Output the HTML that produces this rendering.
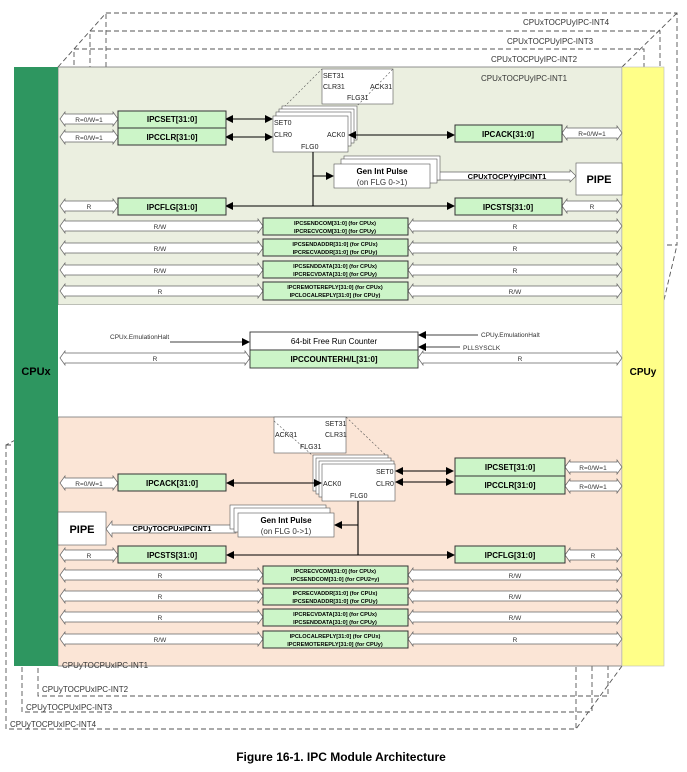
<!DOCTYPE html>
<html><head><meta charset="utf-8"><style>
html,body{margin:0;padding:0;background:#fff;}
svg{display:block;font-family:"Liberation Sans",sans-serif;}
.b{font-weight:bold;}
</style></head><body>
<svg width="687" height="772" viewBox="0 0 687 772" xmlns="http://www.w3.org/2000/svg">
<defs>
<marker id="ah" markerWidth="8" markerHeight="8" refX="7" refY="4" orient="auto-start-reverse" markerUnits="userSpaceOnUse"><path d="M0,0 L8,4 L0,8 z" fill="#000"/></marker>
</defs>
<!-- top dashed layers -->
<g fill="none" stroke="#555" stroke-width="0.9" stroke-dasharray="5,3">
<rect x="106" y="13" width="571" height="232"/>
<rect x="90" y="31" width="570" height="230"/>
<rect x="74" y="49" width="570" height="230"/>
<line x1="58" y1="67" x2="106" y2="13"/>
<line x1="622" y1="67" x2="677" y2="13"/>
<line x1="664" y1="300" x2="677" y2="245"/>
<!-- bottom dashed layers -->
<rect x="6" y="445" width="570" height="284"/>
<rect x="22" y="460" width="570" height="252"/>
<rect x="38" y="475" width="570" height="221"/>
<line x1="58" y1="417" x2="6" y2="445"/>
<line x1="622" y1="666" x2="576" y2="729"/>
</g>
<g font-size="8" fill="#333">
<text x="523" y="25">CPUxTOCPUyIPC-INT4</text>
<text x="507" y="44">CPUxTOCPUyIPC-INT3</text>
<text x="491" y="62">CPUxTOCPUyIPC-INT2</text>
<text x="42" y="692">CPUyTOCPUxIPC-INT2</text>
<text x="26" y="710">CPUyTOCPUxIPC-INT3</text>
<text x="10" y="727">CPUyTOCPUxIPC-INT4</text>
</g>
<!-- regions -->
<rect x="58" y="67" width="564" height="238" fill="#ebefe0" stroke="#777" stroke-width="0.8"/>
<rect x="58" y="305" width="564" height="112" fill="#fff"/>
<rect x="58" y="417" width="564" height="249" fill="#fbe5d6" stroke="#777" stroke-width="0.8"/>
<rect x="14" y="67" width="44" height="599" fill="#2e9660"/>
<rect x="622" y="67" width="42" height="599" fill="#ffff88" stroke="#bbb" stroke-width="0.6"/>
<text x="36" y="375" font-size="11" class="b" text-anchor="middle" fill="#000">CPUx</text>
<text x="643" y="375" font-size="10" class="b" text-anchor="middle" fill="#000">CPUy</text>
<text x="481" y="81" font-size="8" fill="#333">CPUxTOCPUyIPC-INT1</text>
<text x="62" y="668" font-size="8" fill="#333">CPUyTOCPUxIPC-INT1</text>

<!-- hollow bus arrows -->
<g fill="#fff" stroke="#666" stroke-width="0.7">
<polygon points="60,119 65,112 65,114 113,114 113,112 118,119 113,126 113,124 65,124 65,126"/>
<polygon points="60,137 65,130 65,132 113,132 113,130 118,137 113,144 113,142 65,142 65,144"/>
<polygon points="562,133 567,126 567,128 617,128 617,126 622,133 617,140 617,138 567,138 567,140"/>
<polygon points="60,206 65,199 65,201 113,201 113,199 118,206 113,213 113,211 65,211 65,213"/>
<polygon points="562,206 567,199 567,201 617,201 617,199 622,206 617,213 617,211 567,211 567,213"/>
<polygon points="60,226 65,219 65,221 258,221 258,219 263,226 258,233 258,231 65,231 65,233"/>
<polygon points="408,226 413,219 413,221 617,221 617,219 622,226 617,233 617,231 413,231 413,233"/>
<polygon points="60,248 65,241 65,243 258,243 258,241 263,248 258,255 258,253 65,253 65,255"/>
<polygon points="408,248 413,241 413,243 617,243 617,241 622,248 617,255 617,253 413,253 413,255"/>
<polygon points="60,270 65,263 65,265 258,265 258,263 263,270 258,277 258,275 65,275 65,277"/>
<polygon points="408,270 413,263 413,265 617,265 617,263 622,270 617,277 617,275 413,275 413,277"/>
<polygon points="60,291 65,284 65,286 258,286 258,284 263,291 258,298 258,296 65,296 65,298"/>
<polygon points="408,291 413,284 413,286 617,286 617,284 622,291 617,298 617,296 413,296 413,298"/>
<polygon points="432,172 570,172 570,170 576,176 570,182 570,180 432,180"/>
<polygon points="60,358 65,351 65,353 245,353 245,351 250,358 245,365 245,363 65,363 65,365"/>
<polygon points="418,358 423,351 423,353 617,353 617,351 622,358 617,365 617,363 423,363 423,365"/>
<polygon points="60,483 65,476 65,478 113,478 113,476 118,483 113,490 113,488 65,488 65,490"/>
<polygon points="565,467 570,460 570,462 617,462 617,460 622,467 617,474 617,472 570,472 570,474"/>
<polygon points="565,486 570,479 570,481 617,481 617,479 622,486 617,493 617,491 570,491 570,493"/>
<polygon points="236,525 112,525 112,521 106,529 112,537 112,533 236,533"/>
<polygon points="60,555 65,548 65,550 113,550 113,548 118,555 113,562 113,560 65,560 65,562"/>
<polygon points="565,555 570,548 570,550 617,550 617,548 622,555 617,562 617,560 570,560 570,562"/>
<polygon points="60,575 65,568 65,570 258,570 258,568 263,575 258,582 258,580 65,580 65,582"/>
<polygon points="408,575 413,568 413,570 617,570 617,568 622,575 617,582 617,580 413,580 413,582"/>
<polygon points="60,596 65,589 65,591 258,591 258,589 263,596 258,603 258,601 65,601 65,603"/>
<polygon points="408,596 413,589 413,591 617,591 617,589 622,596 617,603 617,601 413,601 413,603"/>
<polygon points="60,617 65,610 65,612 258,612 258,610 263,617 258,624 258,622 65,622 65,624"/>
<polygon points="408,617 413,610 413,612 617,612 617,610 622,617 617,624 617,622 413,622 413,624"/>
<polygon points="60,639 65,632 65,634 258,634 258,632 263,639 258,646 258,644 65,644 65,646"/>
<polygon points="408,639 413,632 413,634 617,634 617,632 622,639 617,646 617,644 413,644 413,646"/>
</g>
<g font-size="6.5" fill="#333" text-anchor="middle">
<text x="89" y="122">R=0/W=1</text><text x="89" y="140">R=0/W=1</text><text x="592" y="136">R=0/W=1</text>
<text x="89" y="209">R</text><text x="592" y="209">R</text>
<text x="160" y="229">R/W</text><text x="515" y="229">R</text>
<text x="160" y="251">R/W</text><text x="515" y="251">R</text>
<text x="160" y="273">R/W</text><text x="515" y="273">R</text>
<text x="160" y="294">R</text><text x="515" y="294">R/W</text>
<text x="155" y="361">R</text><text x="520" y="361">R</text>
<text x="89" y="486">R=0/W=1</text><text x="593" y="470">R=0/W=1</text><text x="593" y="489">R=0/W=1</text>
<text x="89" y="558">R</text><text x="593" y="558">R</text>
<text x="160" y="578">R</text><text x="515" y="578">R/W</text>
<text x="160" y="599">R</text><text x="515" y="599">R/W</text>
<text x="160" y="620">R</text><text x="515" y="620">R/W</text>
<text x="160" y="642">R/W</text><text x="515" y="642">R</text>
</g>

<!-- top FLG structure -->
<g stroke="#555" stroke-width="0.6" fill="#fff">
<rect x="322" y="69" width="71" height="35"/>
<line x1="273" y1="118" x2="322" y2="69" stroke-dasharray="2,2"/>
<line x1="355" y1="108" x2="393" y2="69" stroke-dasharray="2,2"/>
<rect x="282" y="106" width="75" height="34"/>
<rect x="279" y="109" width="75" height="34"/>
<rect x="276" y="112" width="75" height="34"/>
<rect x="273" y="116" width="75" height="36"/>
<rect x="344" y="156" width="96" height="24"/>
<rect x="341" y="159" width="96" height="24"/>
<rect x="334" y="164" width="96" height="24"/>
<rect x="576" y="163" width="46" height="32"/>
</g>
<g font-size="7" fill="#222">
<text x="323" y="78">SET31</text><text x="323" y="89">CLR31</text><text x="370" y="89">ACK31</text><text x="347" y="100">FLG31</text>
<text x="274" y="125">SET0</text><text x="274" y="137">CLR0</text><text x="327" y="137">ACK0</text><text x="301" y="149">FLG0</text>
</g>
<text x="382" y="174" font-size="8" class="b" text-anchor="middle">Gen Int Pulse</text>
<text x="382" y="185" font-size="8" text-anchor="middle" fill="#333">(on FLG 0-&gt;1)</text>
<text x="507" y="179" font-size="7.5" class="b" text-anchor="middle">CPUxTOCPYyIPCINT1</text>
<text x="599" y="183" font-size="11" class="b" text-anchor="middle">PIPE</text>

<!-- bottom FLG structure -->
<g stroke="#555" stroke-width="0.6" fill="#fff">
<rect x="274" y="417" width="72" height="36"/>
<line x1="274" y1="421" x2="322" y2="464" stroke-dasharray="2,2"/>
<line x1="346" y1="417" x2="395" y2="464" stroke-dasharray="2,2"/>
<rect x="313" y="455" width="75" height="36"/>
<rect x="316" y="458" width="75" height="36"/>
<rect x="319" y="461" width="75" height="36"/>
<rect x="322" y="464" width="73" height="37"/>
<rect x="230" y="505" width="96" height="24"/>
<rect x="234" y="508" width="96" height="24"/>
<rect x="238" y="513" width="96" height="24"/>
<rect x="58" y="512" width="48" height="33"/>
</g>
<g font-size="7" fill="#222">
<text x="325" y="426">SET31</text><text x="275" y="437">ACK31</text><text x="325" y="437">CLR31</text><text x="300" y="449">FLG31</text>
<text x="376" y="474">SET0</text><text x="323" y="486">ACK0</text><text x="376" y="486">CLR0</text><text x="350" y="498">FLG0</text>
</g>
<text x="286" y="523" font-size="8" class="b" text-anchor="middle">Gen Int Pulse</text>
<text x="286" y="534" font-size="8" text-anchor="middle" fill="#333">(on FLG 0-&gt;1)</text>
<text x="172" y="531" font-size="7.5" class="b" text-anchor="middle">CPUyTOCPUxIPCINT1</text>
<text x="82" y="533" font-size="11" class="b" text-anchor="middle">PIPE</text>

<!-- black connectors -->
<g stroke="#000" stroke-width="1.1" fill="none">
<line x1="226" y1="119" x2="272" y2="119" marker-start="url(#ah)" marker-end="url(#ah)"/>
<line x1="226" y1="137" x2="272" y2="137" marker-start="url(#ah)" marker-end="url(#ah)"/>
<line x1="349" y1="135" x2="454" y2="135" marker-start="url(#ah)" marker-end="url(#ah)"/>
<line x1="313" y1="152" x2="313" y2="206"/>
<line x1="313" y1="176" x2="333" y2="176" marker-end="url(#ah)"/>
<line x1="226" y1="206" x2="454" y2="206" marker-start="url(#ah)" marker-end="url(#ah)"/>
<line x1="170" y1="342" x2="249" y2="342" stroke-width="0.7" marker-end="url(#ah)"/>
<line x1="419" y1="335" x2="478" y2="335" stroke-width="0.7" marker-start="url(#ah)"/>
<line x1="419" y1="347" x2="460" y2="347" stroke-width="0.7" marker-start="url(#ah)"/>
<line x1="227" y1="483" x2="321" y2="483" marker-start="url(#ah)" marker-end="url(#ah)"/>
<line x1="396" y1="471" x2="453" y2="471" marker-start="url(#ah)" marker-end="url(#ah)"/>
<line x1="396" y1="482" x2="453" y2="482" marker-start="url(#ah)" marker-end="url(#ah)"/>
<line x1="358" y1="501" x2="358" y2="555"/>
<line x1="358" y1="525" x2="335" y2="525" marker-end="url(#ah)"/>
<line x1="227" y1="555" x2="454" y2="555" marker-start="url(#ah)" marker-end="url(#ah)"/>
</g>
<g font-size="6.5" fill="#333">
<text x="110" y="339">CPUx.EmulationHalt</text>
<text x="481" y="337">CPUy.EmulationHalt</text>
<text x="463" y="350">PLLSYSCLK</text>
</g>
<!-- counter -->
<rect x="250" y="332" width="168" height="18" fill="#fff" stroke="#333" stroke-width="0.9"/>
<rect x="250" y="350" width="168" height="18" fill="#ccf5c8" stroke="#333" stroke-width="0.9"/>
<text x="334" y="344" font-size="8" text-anchor="middle">64-bit Free Run Counter</text>
<text x="334" y="362" font-size="8" class="b" text-anchor="middle">IPCCOUNTERH/L[31:0]</text>

<!-- green registers -->
<g fill="#ccf5c8" stroke="#333" stroke-width="1">
<rect x="118" y="111" width="108" height="17"/>
<rect x="118" y="128" width="108" height="17"/>
<rect x="455" y="125" width="107" height="17"/>
<rect x="118" y="198" width="108" height="17"/>
<rect x="455" y="198" width="107" height="17"/>
<rect x="263" y="218" width="145" height="17"/>
<rect x="263" y="239" width="145" height="17"/>
<rect x="263" y="261" width="145" height="17"/>
<rect x="263" y="282" width="145" height="18"/>
<rect x="118" y="474" width="108" height="17"/>
<rect x="455" y="458" width="110" height="18"/>
<rect x="455" y="476" width="110" height="18"/>
<rect x="118" y="546" width="108" height="17"/>
<rect x="455" y="546" width="110" height="17"/>
<rect x="263" y="566" width="145" height="18"/>
<rect x="263" y="588" width="145" height="17"/>
<rect x="263" y="609" width="145" height="17"/>
<rect x="263" y="631" width="145" height="17"/>
</g>
<g font-size="8" class="b" text-anchor="middle">
<text x="172" y="122">IPCSET[31:0]</text>
<text x="172" y="140">IPCCLR[31:0]</text>
<text x="508" y="137">IPCACK[31:0]</text>
<text x="172" y="210">IPCFLG[31:0]</text>
<text x="508" y="210">IPCSTS[31:0]</text>
<text x="172" y="486">IPCACK[31:0]</text>
<text x="510" y="470">IPCSET[31:0]</text>
<text x="510" y="488">IPCCLR[31:0]</text>
<text x="172" y="558">IPCSTS[31:0]</text>
<text x="510" y="558">IPCFLG[31:0]</text>
</g>
<g font-size="5.6" class="b" text-anchor="middle">
<text x="335" y="225">IPCSENDCOM[31:0] (for CPUx)</text><text x="335" y="233">IPCRECVCOM[31:0] (for CPUy)</text>
<text x="335" y="246">IPCSENDADDR[31:0] (for CPUx)</text><text x="335" y="254">IPCRECVADDR[31:0] (for CPUy)</text>
<text x="335" y="268">IPCSENDDATA[31:0] (for CPUx)</text><text x="335" y="276">IPCRECVDATA[31:0] (for CPUy)</text>
<text x="335" y="289">IPCREMOTEREPLY[31:0] (for CPUx)</text><text x="335" y="297">IPCLOCALREPLY[31:0] (for CPUy)</text>
<text x="335" y="573">IPCRECVCOM[31:0] (for CPUx)</text><text x="335" y="581">IPCSENDCOM[31:0] (for CPU2=y)</text>
<text x="335" y="595">IPCRECVADDR[31:0] (for CPUx)</text><text x="335" y="603">IPCSENDADDR[31:0] (for CPUy)</text>
<text x="335" y="616">IPCRECVDATA[31:0] (for CPUx)</text><text x="335" y="624">IPCSENDDATA[31:0] (for CPUy)</text>
<text x="335" y="638">IPCLOCALREPLY[31:0] (for CPUx)</text><text x="335" y="646">IPCREMOTEREPLY[31:0] (for CPUy)</text>
</g>
<text x="341" y="761" font-size="12" class="b" text-anchor="middle">Figure 16-1. IPC Module Architecture</text>
</svg>
</body></html>
